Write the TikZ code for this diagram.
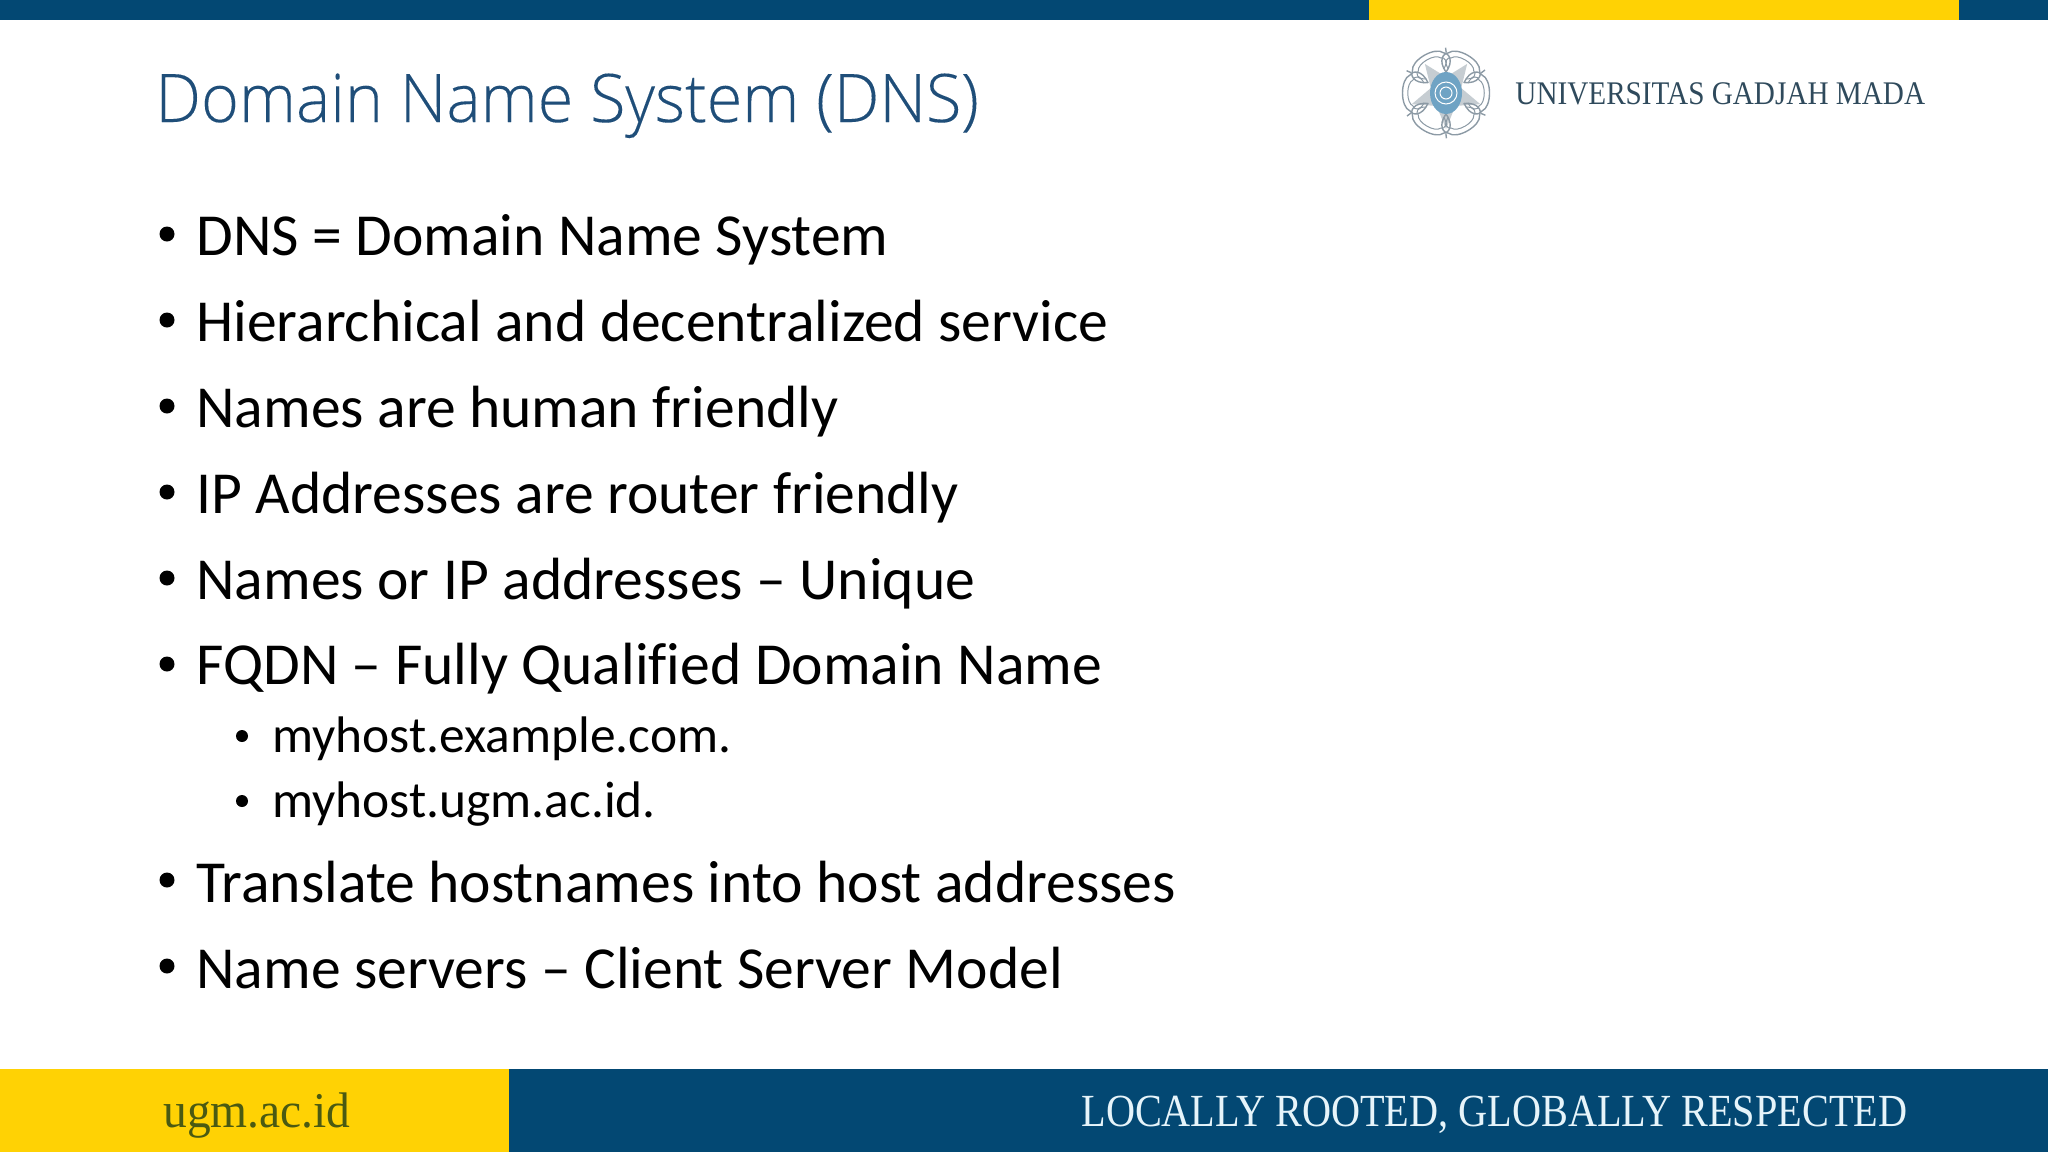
\documentclass[tikz,border=0pt]{standalone}
\usepackage{fontspec}
\setmainfont[Ligatures=NoCommon]{Carlito}
\newfontfamily\titlefont[FakeStretch=0.965,FakeBold=0.12]{Open Sans Light}
\newfontfamily\logofont[FakeStretch=0.885]{Liberation Serif}
\newfontfamily\mottofont[FakeStretch=0.875]{Liberation Serif}
\newfontfamily\sitefont[FakeStretch=0.95]{Liberation Serif}
\definecolor{ugmblue}{HTML}{034873}
\definecolor{ugmyellow}{HTML}{FFD204}
\definecolor{titleblue}{HTML}{1F4E79}
\definecolor{logoink}{HTML}{2F4A5C}
\definecolor{sealgray}{HTML}{8C9AA5}
\definecolor{sealblue}{HTML}{6FA3C4}
\definecolor{footink}{HTML}{4A5A12}
\definecolor{footpale}{HTML}{E6F4FA}
\tikzset{
    item/.style={anchor=base west, inner sep=0pt, font=\fontsize{29.8}{29.8}\selectfont},
    subitem/.style={anchor=base west, inner sep=0pt, font=\fontsize{25.7}{25.7}\selectfont},
    dot/.style={circle, fill=black, inner sep=0pt, minimum size=7.5pt},
    subdot/.style={circle, fill=black, inner sep=0pt, minimum size=6pt}
}
\begin{document}
\begin{tikzpicture}[x=0.5pt, y=-0.5pt]
        \useasboundingbox (0,0) rectangle (2048,1152);
        % bands
        \fill[ugmblue] (0,0) rectangle (2048,20);
        \fill[ugmyellow] (1369,0) rectangle (1959,20);
        \fill[ugmyellow] (0,1069) rectangle (509,1152);
        \fill[ugmblue] (509,1069) rectangle (2048,1152);
        % title
        \node[anchor=base west, inner sep=0pt, text=titleblue, font=\titlefont\fontsize{33.5}{33.5}\selectfont] (title) at (155,122) {Domain Name System (DNS)};
        % seal
        \begin{scope}[shift={(1446,93)}]
            \fill[sealgray!50] (90:36) -- (54:16) -- (18:36) -- (-18:16) -- (-54:36) -- (-90:16) -- (-126:36) -- (-162:16) -- (162:36) -- (126:16) -- cycle;
            \foreach \a in {0,60,...,300} {
                \draw[sealgray, line width=0.7pt, rotate=\a] (18,-10) .. controls (24,-24) and (34,-22) .. (36,-18) .. controls (46,-14) and (46,14) .. (36,18) .. controls (34,22) and (24,24) .. (18,10);
                \draw[sealgray, line width=0.5pt, rotate=\a] (22,-10) .. controls (26,-18) and (32,-17) .. (33,-13) .. controls (40,-10) and (40,10) .. (33,13) .. controls (32,17) and (26,18) .. (22,10);
                \draw[sealgray, line width=0.7pt, rotate=\a] (35,-20) -- (39,-23);
            }
            \fill[sealblue] (0,0) ellipse (16 and 21);
            \draw[white, line width=0.5pt] (0,0) circle (11);
            \draw[white, line width=0.5pt] (0,0) circle (6);
        \end{scope}
        \node[anchor=base west, inner sep=0pt, text=logoink, font=\logofont\fontsize{16.5}{16.5}\selectfont] (logotext) at (1515,104) {UNIVERSITAS GADJAH MADA};
        % bullets
        \node[item] (i1) at (196,255) {DNS = Domain Name System};
        \node[item] (i2) at (196,341) {Hierarchical and decentralized service};
        \node[item] (i3) at (196,427) {Names are human friendly};
        \node[item] (i4) at (196,513) {IP Addresses are router friendly};
        \node[item] (i5) at (196,599) {Names or IP addresses – Unique};
        \node[item] (i6) at (196,684) {FQDN – Fully Qualified Domain Name};
        \node[subitem] (s1) at (272,752) {myhost.example.com.};
        \node[subitem] (s2) at (272,817) {myhost.ugm.ac.id.};
        \node[item] (i7) at (196,902) {Translate hostnames into host addresses};
        \node[item] (i8) at (196,988) {Name servers – Client Server Model};
        \foreach \y in {234,320,406,492,578,664,880,966}
            \node[dot] at (167,\y) {};
        \foreach \y in {736,801}
            \node[subdot] at (242,\y) {};
        % footer
        \node[anchor=base west, inner sep=0pt, text=footink, font=\sitefont\fontsize{25}{25}\selectfont] (site) at (163,1127) {ugm.ac.id};
        \node[anchor=base west, inner sep=0pt, text=footpale, font=\mottofont\fontsize{23}{23}\selectfont] (motto) at (1081,1126) {LOCALLY ROOTED, GLOBALLY RESPECTED};
    \end{tikzpicture}
\end{document}
